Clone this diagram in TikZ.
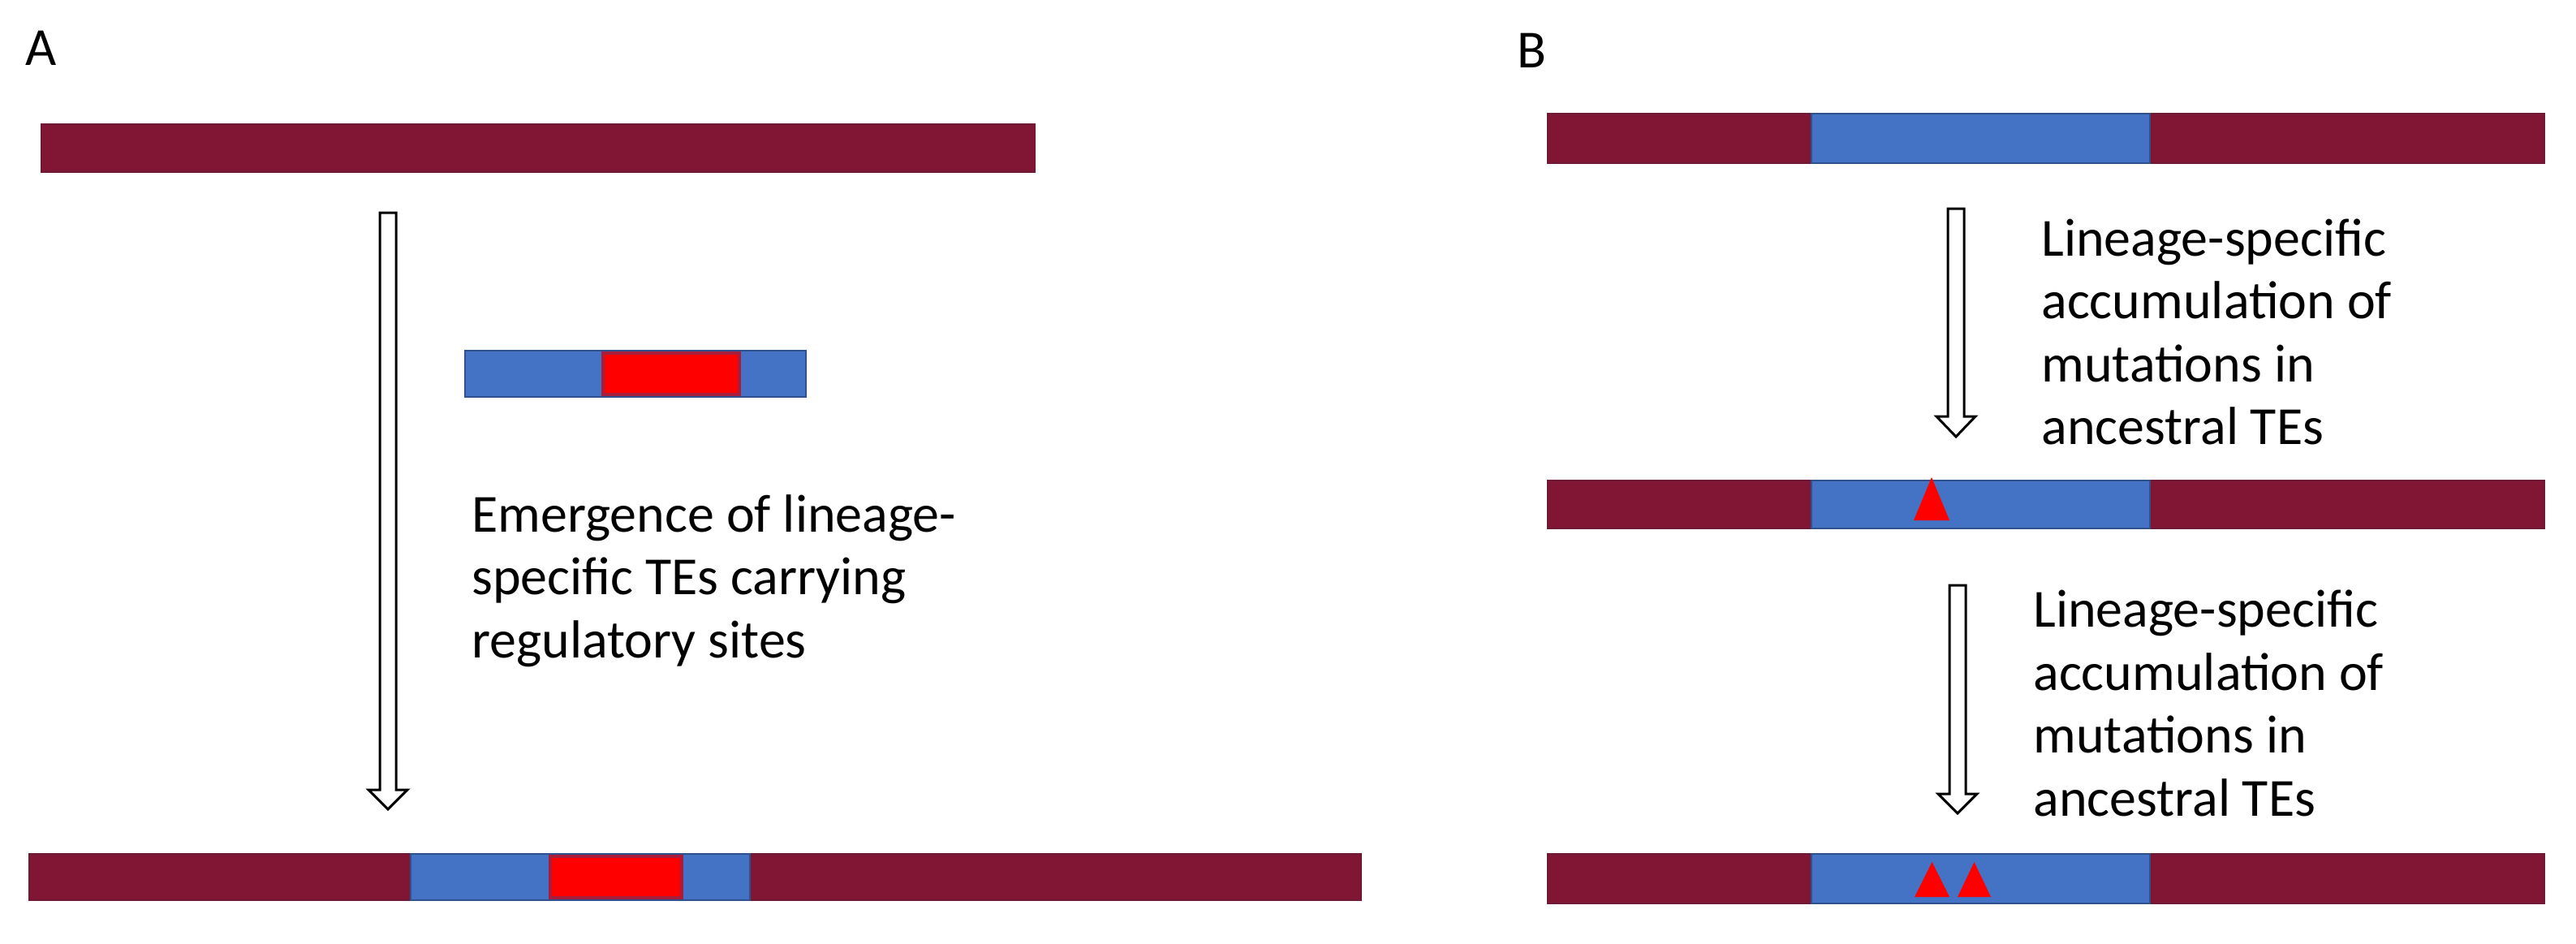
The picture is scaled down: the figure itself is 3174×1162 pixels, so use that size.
\documentclass[tikz,border=0pt]{standalone}
\usepackage{fontspec}
\setmainfont{Carlito}
\definecolor{maroon}{HTML}{801634}
\definecolor{maroonedge}{HTML}{6E1A36}
\definecolor{teblue}{HTML}{4472C4}
\definecolor{teedge}{HTML}{2F528F}
\definecolor{tered}{HTML}{FF0000}
\definecolor{rededge}{HTML}{A81C3C}
\tikzset{
  chrom/.style={fill=maroon, draw=maroonedge, line width=0.6pt},
  te/.style={fill=teblue, draw=teedge, line width=1.4pt},
  site/.style={fill=tered, draw=rededge, line width=2.2pt},
  mut/.style={fill=tered},
  lbl/.style={anchor=base west, inner sep=0pt, font=\fontsize{33}{38.7}\selectfont},
  blkarrow/.style={draw=black, fill=white, line width=1.5pt, line join=miter, miter limit=10}
}
\newcommand\blockarrow[4]{% center x, top y, head start y, tip y
  \draw[blkarrow] ({#1-10},#2) -- ({#1+10},#2) -- ({#1+10},#3) -- ({#1+24},#3)
    -- (#1,#4) -- ({#1-24},#3) -- ({#1-10},#3) -- cycle;}
\begin{document}
\begin{tikzpicture}[x=0.5pt,y=-0.5pt]
\useasboundingbox (0,0) rectangle (3174,1162);
\fill[white] (0,0) rectangle (3174,1162);

% ---------- Panel A ----------
\node[lbl] (labA) at (31,80) {A};
\draw[chrom] (51,153) rectangle (1275,212);

% free TE with regulatory site
\draw[te] (573,432) rectangle (993,489);
\draw[site] (743,435) rectangle (911,486);

% text
\node[lbl] (tA1) at (581,655) {Emergence of lineage-};
\node[lbl] (tA2) at (581,732) {specific TEs carrying};
\node[lbl] (tA3) at (581,810) {regulatory sites};

% arrow
\blockarrow{478}{262}{973}{997}

% result chromosome
\draw[chrom] (36,1052) rectangle (1677,1109);
\draw[te] (506,1052) rectangle (924,1109);
\draw[site] (678,1055) rectangle (840,1106);

% ---------- Panel B ----------
\node[lbl] (labB) at (1869,83) {B};

\draw[chrom] (1907,140) rectangle (3135,201);
\draw[te] (2232,140) rectangle (2649,201);

\blockarrow{2410}{257}{513}{538}
\node[lbl] (tB1) at (2515,315) {Lineage-specific};
\node[lbl] (tB2) at (2515,392) {accumulation of};
\node[lbl] (tB3) at (2515,470) {mutations in};
\node[lbl] (tB4) at (2515,547) {ancestral TEs};

\draw[chrom] (1907,592) rectangle (3135,651);
\draw[te] (2232,592) rectangle (2649,651);
\fill[mut] (2358,641) -- (2402,641) -- (2380,588) -- cycle;

\blockarrow{2412}{721}{978}{1002}
\node[lbl] (tC1) at (2505,772) {Lineage-specific};
\node[lbl] (tC2) at (2505,850) {accumulation of};
\node[lbl] (tC3) at (2505,927) {mutations in};
\node[lbl] (tC4) at (2505,1005) {ancestral TEs};

\draw[chrom] (1907,1052) rectangle (3135,1113);
\draw[te] (2232,1052) rectangle (2649,1113);
\fill[mut] (2359,1105) -- (2402,1105) -- (2380.5,1062) -- cycle;
\fill[mut] (2412,1105) -- (2453,1105) -- (2432.5,1062) -- cycle;
\end{tikzpicture}
\end{document}
